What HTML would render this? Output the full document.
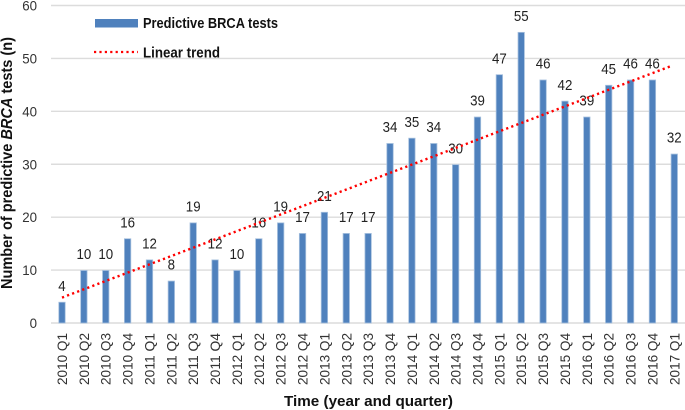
<!DOCTYPE html>
<html lang="en">
<head>
<meta charset="utf-8">
<title>Predictive BRCA tests</title>
<style>
html,body{margin:0;padding:0;background:#fff;width:685px;height:410px;overflow:hidden}
svg{display:block;font-family:"Liberation Sans",sans-serif}
</style>
</head>
<body>
<svg id="chart" xmlns="http://www.w3.org/2000/svg" width="685" height="410" viewBox="0 0 685 410">
  <g id="grid"></g>
  <g id="bars"></g>
  <g id="ylabels"></g>
  <g id="xlabels"></g>
  <g id="values"></g>
  <line id="trend" stroke="#ff0000" stroke-width="2.4" stroke-dasharray="2.2 3.2"></line>
  <text transform="translate(12,289) rotate(-90)" font-size="15.5" font-weight="bold" fill="#111" textLength="252" lengthAdjust="spacingAndGlyphs">Number of predictive <tspan font-style="italic">BRCA</tspan> tests (n)</text>
  <text x="284" y="406" font-size="15" font-weight="bold" fill="#111" textLength="169" lengthAdjust="spacingAndGlyphs">Time (year and quarter)</text>
  <g>
    <rect x="95" y="19" width="43" height="8.5" fill="#4f81bd"></rect>
    <text x="143" y="28" font-size="14.5" font-weight="bold" fill="#111" textLength="135" lengthAdjust="spacingAndGlyphs">Predictive BRCA tests</text>
    <line x1="94" y1="52" x2="138" y2="52" stroke="#ff0000" stroke-width="2.2" stroke-dasharray="2.2 3.2"></line>
    <text x="143" y="57.5" font-size="14.5" font-weight="bold" fill="#111" textLength="77" lengthAdjust="spacingAndGlyphs">Linear trend</text>
  </g>
</svg>
<script>
var categories = ["2010 Q1","2010 Q2","2010 Q3","2010 Q4","2011 Q1","2011 Q2","2011 Q3","2011 Q4","2012 Q1","2012 Q2","2012 Q3","2012 Q4","2013 Q1","2013 Q2","2013 Q3","2013 Q4","2014 Q1","2014 Q2","2014 Q3","2014 Q4","2015 Q1","2015 Q2","2015 Q3","2015 Q4","2016 Q1","2016 Q2","2016 Q3","2016 Q4","2017 Q1"];
var testCounts = [4,10,10,16,12,8,19,12,10,16,19,17,21,17,17,34,35,34,30,39,47,55,46,42,39,45,46,46,32];
var yTicks = [0,10,20,30,40,50,60];
var trendEnds = [4.8,48.5];

var NS = "http://www.w3.org/2000/svg";
function xAt(i){ return 62 + i * (674.3 - 62) / (categories.length - 1); }
function yAt(v){ return 323 - v * (323 - 5.5) / 60; }
function make(parent, tag, attrs, text){
  var el = document.createElementNS(NS, tag);
  for (var k in attrs) el.setAttribute(k, attrs[k]);
  if (text !== undefined) el.textContent = text;
  document.getElementById(parent).appendChild(el);
  return el;
}

yTicks.forEach(function(t){
  var line = make("grid", "line", {x1:51, x2:685, y1:yAt(t), y2:yAt(t), stroke:"#dcdcdc", "stroke-width":1.4});
  
  
  var label = make("ylabels", "text", {x:37, y:yAt(t)+5, "text-anchor":"end", "font-size":14, fill:"#333", textLength:String(t).length*7.4, lengthAdjust:"spacingAndGlyphs"}, t);
  
  
});

categories.forEach(function(c, i){
  var v = testCounts[i];
  var bar = make("bars", "rect", {x:xAt(i)-3.2, y:yAt(v)+0.4, width:6.4, height:yAt(0)-yAt(v)-0.4, fill:"#4f81bd", stroke:"#a6c0de", "stroke-width":0.8});
  
  
  var tick = make("xlabels", "text", {transform:"translate("+(xAt(i)+5)+",385) rotate(-90)", "font-size":14, fill:"#333", textLength:52, lengthAdjust:"spacingAndGlyphs"}, c);
  
  
  var val = make("values", "text", {x:xAt(i), y:yAt(v)-11, "text-anchor":"middle", "font-size":14.5, fill:"#222", textLength:String(v).length*7.4, lengthAdjust:"spacingAndGlyphs"}, v);
  
  
});

var trend = document.getElementById("trend");
trend.setAttribute("x1", xAt(0));
trend.setAttribute("y1", yAt(trendEnds[0]));
trend.setAttribute("x2", xAt(categories.length - 1) - 4);
trend.setAttribute("y2", yAt(trendEnds[1]));
</script>
</body>
</html>
